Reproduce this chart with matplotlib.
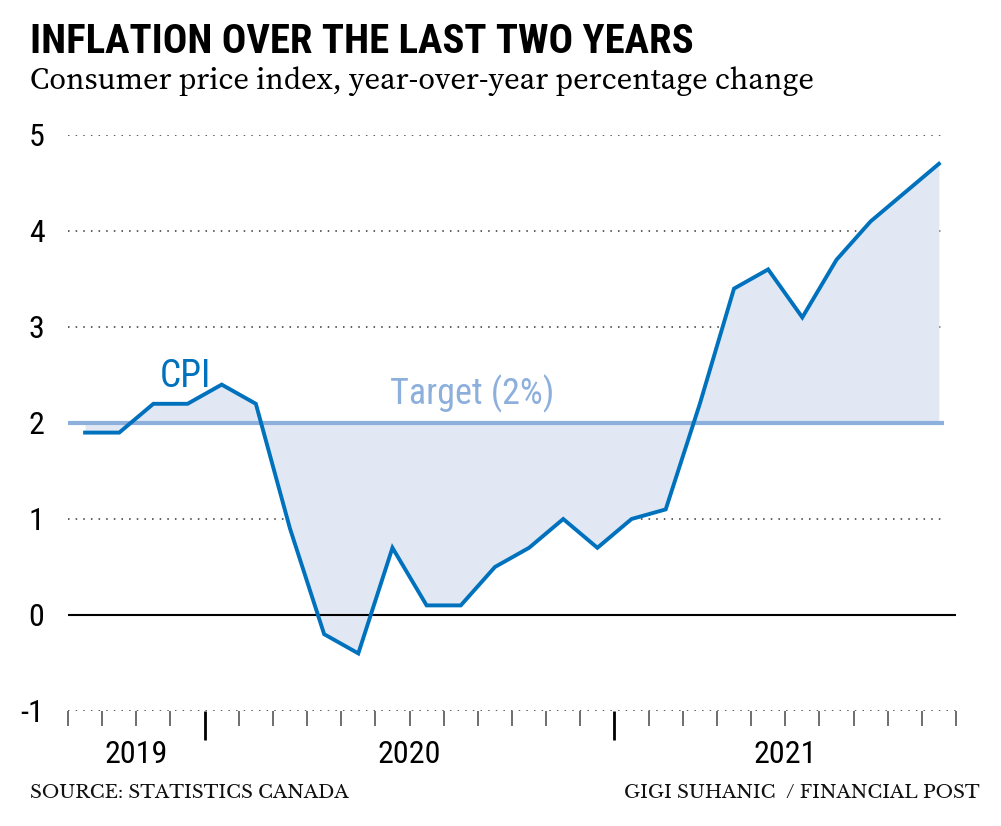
import numpy as np
import matplotlib
matplotlib.use("Agg")
import matplotlib.pyplot as plt

# Canada CPI, y/y % change, Sep 2019 - Oct 2021
months = ["Sep 2019", "Oct 2019", "Nov 2019", "Dec 2019",
          "Jan 2020", "Feb 2020", "Mar 2020", "Apr 2020", "May 2020", "Jun 2020",
          "Jul 2020", "Aug 2020", "Sep 2020", "Oct 2020", "Nov 2020", "Dec 2020",
          "Jan 2021", "Feb 2021", "Mar 2021", "Apr 2021", "May 2021", "Jun 2021",
          "Jul 2021", "Aug 2021", "Sep 2021", "Oct 2021"]
cpi = [1.9, 1.9, 2.2, 2.2, 2.4, 2.2, 0.9, -0.2, -0.4, 0.7, 0.1, 0.1, 0.5,
       0.7, 1.0, 0.7, 1.0, 1.1, 2.2, 3.4, 3.6, 3.1, 3.7, 4.1, 4.4, 4.7]
target = 2.0
years = ["2019", "2020", "2021"]
year_start = [0, 4, 16]   # index of first month of each year in the series
y_ticks = [-1, 0, 1, 2, 3, 4, 5]

LINE = "#0071bc"
TARGET = "#8cafdc"
FILL = "#e1e8f4"

cond = ["Roboto Condensed", "Barlow Condensed", "Asap Condensed", "DejaVu Sans"]
serif = ["Source Serif 4", "PT Serif", "Merriweather", "Liberation Serif"]
foot = ["Libre Baskerville", "EB Garamond", "Liberation Serif"]

W, H = 1001, 826
fig = plt.figure(figsize=(W / 100, H / 100), dpi=100)
ax = fig.add_axes([68 / W, 1 - 711 / H, 888 / W, 576 / H])

x = np.arange(len(cpi))
n = len(cpi)
ax.set_xlim(-0.5, n - 0.5)
ax.set_ylim(-1, 5)

# grid
grid_end = n - 1 + 0.15
for v in y_ticks:
    if v in (0, target):
        continue
    ax.hlines(v, -0.5, grid_end if v != -1 else n - 0.5, colors="#333333",
              linestyles=(0, (1, 4)), lw=1.1, zorder=1)
ax.hlines(0, -0.5, n - 0.5, colors="black", lw=1.5, zorder=2)

# fill + lines
ax.fill_between(x, cpi, target, color=FILL, lw=0, zorder=1.5)
ax.hlines(target, -0.5, grid_end, colors=TARGET, lw=3, zorder=3)
ax.plot(x, cpi, color=LINE, lw=2.8, zorder=4, solid_joinstyle="miter")

ax.text(2.2, 2.375, "CPI", color=LINE, fontsize=27, family=cond, ha="left", va="baseline")
ax.text(8.92, 2.19, "Target (2%)", color=TARGET, fontsize=26, family=cond, ha="left", va="baseline")

# axes styling
for s in ax.spines.values():
    s.set_visible(False)
ax.set_yticks(y_ticks)
ax.set_yticklabels([str(v) for v in y_ticks], family=cond, fontsize=23)
ax.tick_params(axis="y", length=0, pad=17)

bounds = np.arange(-0.5, n, 1.0)
minor = [b for b in bounds if (b + 0.5) not in year_start[1:]]
major = [s - 0.5 for s in year_start[1:]]
ax.set_xticks(major)
ax.set_xticks(minor, minor=True)
ax.tick_params(axis="x", which="major", length=21, width=2, color="black", labelbottom=False)
ax.tick_params(axis="x", which="minor", length=11, width=1.2, color="#555555", labelbottom=False)

ends = year_start[1:] + [n]
for yr, a, b in zip(years, year_start, ends):
    ax.text((a + b - 1) / 2, -1 - 52 / 96, yr, ha="center", va="baseline", fontsize=23, family=cond)

# titles / footer
fig.text(30 / W, 1 - 53 / H, "INFLATION OVER THE LAST TWO YEARS", fontsize=29.3,
         weight="bold", family=cond, ha="left", va="baseline")
fig.text(30 / W, 1 - 89 / H, "Consumer price index, year-over-year percentage change",
         fontsize=22, family=serif, ha="left", va="baseline")
fig.text(30 / W, 1 - 798 / H, "SOURCE: STATISTICS CANADA", fontsize=13.3,
         weight="bold", family=foot, ha="left", va="baseline", color="#111111")
fig.text(980 / W, 1 - 798 / H, "GIGI SUHANIC  / FINANCIAL POST", fontsize=13.3,
         weight="bold", family=foot, ha="right", va="baseline", color="#111111")

fig.savefig("out.png", dpi=100)
